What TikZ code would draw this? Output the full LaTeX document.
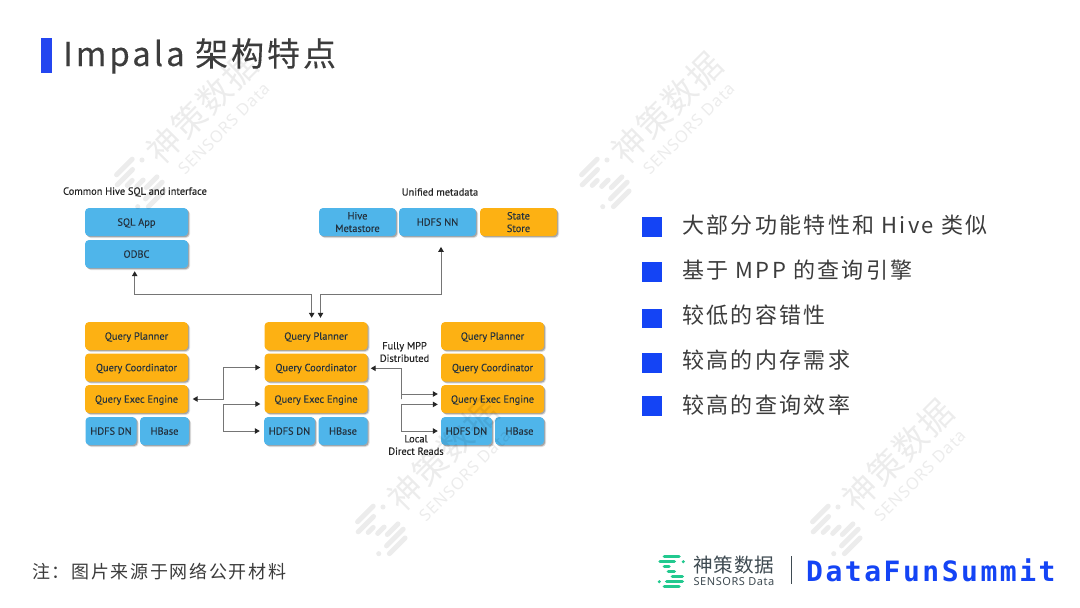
\documentclass[tikz,border=0pt]{standalone}
\usepackage{fontspec}
\usetikzlibrary{arrows.meta,shadows,calc}
\setmainfont{Noto Sans CJK SC}
\newfontfamily\dgfont[FakeBold=0.12]{PT Sans}
\newfontfamily\dgbold[FakeBold=0.35]{PT Sans}
\newfontfamily\titlefont[LetterSpace=9,FakeBold=0.2]{Noto Sans CJK SC}
\newfontfamily\itemfont[LetterSpace=10.5]{Noto Sans CJK SC}
\newfontfamily\notefont[LetterSpace=9.3]{Noto Sans CJK SC}
\newfontfamily\logofont[LetterSpace=4.5]{Noto Sans CJK SC}
\newfontfamily\logolat[LetterSpace=5]{Noto Sans}
\newfontfamily\dffont[LetterSpace=9]{DejaVu Sans Mono}
\definecolor{cblue}{HTML}{4FB5EA}
\definecolor{corange}{HTML}{FDB113}
\definecolor{dgtext}{HTML}{24323E}
\definecolor{conn}{HTML}{757575}
\definecolor{tip}{HTML}{262626}
\definecolor{royal}{HTML}{1444F5}
\definecolor{titlebar}{HTML}{2446F0}
\definecolor{txt}{HTML}{3C3C3C}
\definecolor{sdgreen}{HTML}{22C98F}
\definecolor{sdgray}{HTML}{3F4B52}
\newcommand\fs[2]{\fontsize{#1pt}{#2pt}\selectfont}
\tikzset{
  box/.style={rounded corners=4pt,draw=none,minimum height=28pt,inner sep=0pt,align=center,
    text=dgtext,text depth=0pt,font=\dgfont\fs{10.4}{12.5},
    general shadow={shadow xshift=2pt,shadow yshift=-2pt,fill=black,opacity=.13},
    general shadow={shadow xshift=1.2pt,shadow yshift=-1.2pt,fill=black,opacity=.25}},
  bluebox/.style={box,fill=cblue},
  orbox/.style={box,fill=corange},
  w103/.style={minimum width=103pt},
  w77/.style={minimum width=77pt},
  w51/.style={minimum width=51pt},
  w49/.style={minimum width=49pt},
  lbl/.style={font=\dgbold\fs{10.4}{12.5},text=black!85,align=center,inner sep=0pt},
  link/.style={draw=conn,line width=1pt},
  both/.style={link,{Triangle[length=5pt,width=5.5pt,color=tip]}-{Triangle[length=5pt,width=5.5pt,color=tip]}},
  square/.style={fill=royal,draw=none,minimum size=19.5pt,inner sep=0pt},
  itemtxt/.style={font=\itemfont\fs{22}{26},text=txt,anchor=west,inner sep=0pt},
  logobar/.style={line cap=round}
}
% #1 scale, #2 bar colour, #3 text colour, #4 scope options, #5 name,
% #6 scale of the Chinese words, #7 #8 place of the Latin words, #9 x of the Chinese words
\newcommand\sdlogo[9]{%
 \begin{scope}[#4,scale=#1]
  \begin{scope}[line width=#1*3.3pt,logobar,draw=#2]
  \draw (-19,-5)--(-4.2,-5);
  \draw (-23.4,0)--(-8.9,0);
  \draw (-19,5)--(-14.2,5);
  \draw (-15,10)--(-8.9,10);
  \draw (-11,15)--(-.9,15);
  \draw (-16.7,20)--(-.9,20);
  \draw (-19,25)--(-4.2,25);
  \end{scope}
  \fill[#2] (0,0) circle (1.7);
  \fill[#2] (-24,20) circle (1.7);
  \node[transform shape,scale=#6,inner sep=0pt,text=#3,font=\logofont\fs{19.6}{22}] (#5a) at (#9,3.8) {神策数据};
  \node[transform shape,inner sep=0pt,text=#3,font=\logolat\fs{11}{13}] (#5b) at (#7,#8) {SENSORS Data};
 \end{scope}}
\begin{document}
\begin{tikzpicture}[x=1pt,y=-1pt]
\useasboundingbox (0,0) rectangle (1080,608);
\fill[white] (0,0) rectangle (1080,608);

% title
\fill[titlebar] (41,38) rectangle (52,73);
\node[anchor=base west,inner sep=0pt,text=txt,font=\titlefont\fs{33}{38}] (title) at (63,66) {Impala 架构特点};

% diagram headings
\node[lbl] (h1) at (135,192) {Common Hive SQL and interface};
\node[lbl] (h2) at (440,192) {Unified metadata};

% top boxes
\node[bluebox,w103] (sql) at (136.5,222) {SQL App};
\node[bluebox,w103] (odbc) at (136.5,254) {ODBC};
\node[bluebox,w77] (hive) at (357.5,222) {Hive\\Metastore};
\node[bluebox,w77] (nn) at (437.5,222) {HDFS NN};
\node[orbox,w77] (state) at (518.5,222) {State\\Store};

% left column
\node[orbox,w103] (lplan) at (136.5,336) {Query Planner};
\node[orbox,w103] (lcoord) at (136.5,367.5) {Query Coordinator};
\node[orbox,w103] (lexec) at (136.5,399) {Query Exec Engine};
\node[bluebox,w51] (ldn) at (111,431) {HDFS DN};
\node[bluebox,w49] (lhb) at (164.5,431) {HBase};
% middle column
\node[orbox,w103] (mplan) at (316,336) {Query Planner};
\node[orbox,w103] (mcoord) at (316,367.5) {Query Coordinator};
\node[orbox,w103] (mexec) at (316,399) {Query Exec Engine};
\node[bluebox,w51] (mdn) at (289.5,431) {HDFS DN};
\node[bluebox,w49] (mhb) at (343,431) {HBase};
% right column
\node[orbox,w103] (rplan) at (492.5,336) {Query Planner};
\node[orbox,w103] (rcoord) at (492.5,367.5) {Query Coordinator};
\node[orbox,w103] (rexec) at (492.5,399) {Query Exec Engine};
\node[bluebox,w51] (rdn) at (466.5,431) {HDFS DN};
\node[bluebox,w49] (rhb) at (519.5,431) {HBase};

\node[lbl] (fully) at (404.5,352) {Fully MPP\\Distributed};
\node[lbl] (local) at (416,445) {Local\\Direct Reads};

% connectors
\coordinate (jA) at (223.3,415);
\coordinate (jB) at (401.7,415);
\draw[both] ([xshift=-1.8pt,yshift=-3pt]odbc.south) |- ([xshift=-4.3pt,yshift=27.3pt]mplan.north) -- ([xshift=-4.3pt,yshift=4pt]mplan.north);
\draw[both] ([xshift=4.5pt,yshift=4pt]mplan.north) -- ([xshift=4.5pt,yshift=27.3pt]mplan.north) -| ([xshift=3.5pt,yshift=-10.7pt]nn.south);
\draw[both] ([xshift=4.5pt]lexec.east) -| (jA |- mcoord.west) -- ([xshift=-4pt]mcoord.west);
\draw[both] ([xshift=-4pt,yshift=-5pt]mexec.west) -| (jA) |- ([xshift=-4pt]mdn.west);
\draw[both] ([xshift=3pt,yshift=-.8pt]mcoord.east) -| (jB |- rexec.west) |- ([xshift=-3pt,yshift=5pt]rexec.west);
\draw[both] ([xshift=-3pt,yshift=-5.4pt]rexec.west) -| (jB) |- ([xshift=-3pt]rdn.west);

% bullets
\node[square] (s1) at (652,227) {};
\node[square] (s2) at (652,272) {};
\node[square] (s3) at (652,318.5) {};
\node[square] (s4) at (652,363) {};
\node[square] (s5) at (652,406) {};
\node[itemtxt] (t1) at (682,225.5) {大部分功能特性和 Hive 类似};
\node[itemtxt] (t2) at (682,270.5) {基于 MPP 的查询引擎};
\node[itemtxt] (t3) at (682,315.5) {较低的容错性};
\node[itemtxt] (t4) at (682,360.5) {较高的内存需求};
\node[itemtxt] (t5) at (682,405.5) {较高的查询效率};

% footnote
\node[anchor=west,inner sep=0pt,text=txt,font=\notefont\fs{18}{22}] (note) at (32,571.5) {注：图片来源于网络公开材料};

% footer logos
\sdlogo{1}{sdgreen}{sdgray}{shift={(683.3,561.7)}}{foot}{1}{50.7}{19.5}{50.7}
\draw[line width=1pt,draw=sdgray] (791,556) -- (791,584);
\node[anchor=base west,inner sep=0pt,text=royal,font=\dffont\bfseries\fs{28}{32}] (df) at (806,581) {DataFunSummit};

% watermarks
\begin{scope}[opacity=.075]
\sdlogo{1.5}{black}{black}{shift={(142,160)},rotate=45}{wa}{1.15}{53.5}{24.2}{53}
\sdlogo{1.5}{black}{black}{shift={(607,160)},rotate=45}{wb}{1.15}{53.5}{24.2}{53}
\sdlogo{1.5}{black}{black}{shift={(383,507)},rotate=45}{wc}{1.15}{53.5}{24.2}{53}
\sdlogo{1.5}{black}{black}{shift={(838,507)},rotate=45}{wd}{1.15}{53.5}{24.2}{53}
\end{scope}
\end{tikzpicture}
\end{document}
